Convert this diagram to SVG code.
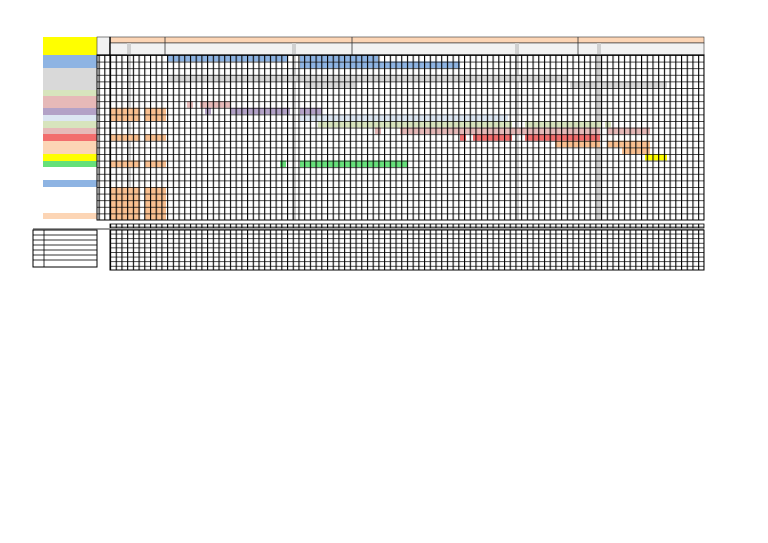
<svg xmlns="http://www.w3.org/2000/svg" width="768" height="543" viewBox="0 0 768 543">
<style>.b{fill:#8eb4e3}.g{fill:#d9d9d9}.pk{fill:#e6b9b8}.pu{fill:#b3a2c7}.lb{fill:#dce6f2}.gr{fill:#d7e4bd}.rd{fill:#f26d6d}.pe{fill:#fac090}.ye{fill:#ffff00}.gn{fill:#66e07a}.hd{fill:#fcd5b5}</style>
<defs>
<pattern id="grid" patternUnits="userSpaceOnUse" x="110" y="55" width="5.71" height="6.6"><rect width="1.1" height="6.6" fill="#000"/><rect width="5.71" height="0.7" fill="#000"/></pattern>
<pattern id="grid2" patternUnits="userSpaceOnUse" x="110" y="229" width="5.71" height="4.6"><rect width="1.1" height="4.6" fill="#000"/><rect width="5.71" height="0.7" fill="#000"/></pattern>
</defs>
<rect width="768" height="543" fill="#fff"/>
<g id="labels">
<rect x="43" y="37" width="54" height="18" class="ye"/>
<rect x="43" y="55" width="54" height="13" class="b"/>
<rect x="43" y="68" width="54" height="22" class="g"/>
<rect x="43" y="90" width="54" height="6" class="gr"/>
<rect x="43" y="96" width="54" height="12" class="pk"/>
<rect x="43" y="108" width="54" height="7" class="pu"/>
<rect x="43" y="115" width="54" height="6" class="lb"/>
<rect x="43" y="121" width="54" height="7" class="gr"/>
<rect x="43" y="128" width="54" height="6" class="pk"/>
<rect x="43" y="134" width="54" height="7" class="rd"/>
<rect x="43" y="141" width="54" height="13" class="hd"/>
<rect x="43" y="154" width="54" height="7" class="ye"/>
<rect x="43" y="161" width="54" height="6" class="gn"/>
<rect x="43" y="180" width="54" height="7" class="b"/>
<rect x="43" y="213" width="54" height="6" class="hd"/>
</g>
<g id="header">
<rect x="110" y="37" width="594" height="6" class="hd" stroke="#333" stroke-width="0.6"/>
<rect x="97" y="37" width="13" height="18" fill="#f2f2f2" stroke="#333" stroke-width="0.6"/>
<rect x="110" y="43" width="594" height="12" fill="#f2f2f2" stroke="#333" stroke-width="0.6"/>
<path d="M165 37V55M352 37V55M578 37V55" stroke="#333" stroke-width="0.8"/>
</g>
<g id="stripes">
<rect x="127" y="43" width="4" height="177" fill="#d0d0d0"/>
<rect x="292" y="43" width="4" height="177" fill="#d0d0d0"/>
<rect x="515" y="43" width="4" height="177" fill="#d0d0d0"/>
<rect x="597" y="43" width="4" height="177" fill="#d0d0d0"/>
</g>
<g id="bars">
<rect x="167" y="55" width="121" height="6.6" class="b"/>
<rect x="300" y="55" width="78" height="6.6" class="b"/>
<rect x="300" y="61.6" width="160" height="6.6" class="b"/>
<rect x="167" y="74.8" width="400" height="6.6" class="g"/>
<rect x="305" y="81.4" width="50" height="6.6" class="g"/>
<rect x="570" y="81.4" width="97" height="6.6" class="g"/>
<rect x="187" y="101.2" width="6" height="6.6" class="pk"/>
<rect x="200" y="101.2" width="30" height="6.6" class="pk"/>
<rect x="205" y="107.8" width="6" height="6.6" class="pu"/>
<rect x="230" y="107.8" width="60" height="6.6" class="pu"/>
<rect x="300" y="107.8" width="22" height="6.6" class="pu"/>
<rect x="110" y="107.8" width="30" height="13.2" class="pe"/>
<rect x="145" y="107.8" width="21" height="13.2" class="pe"/>
<rect x="300" y="114.4" width="208" height="6.6" class="lb"/>
<rect x="318" y="121" width="194" height="6.6" class="gr"/>
<rect x="525" y="121" width="76" height="6.6" class="gr"/>
<rect x="605" y="121" width="6" height="6.6" class="gr"/>
<rect x="375" y="127.6" width="6" height="6.6" class="pk"/>
<rect x="400" y="127.6" width="200" height="6.6" class="pk"/>
<rect x="607" y="127.6" width="43" height="6.6" class="pk"/>
<rect x="460" y="134.2" width="6" height="6.6" class="rd"/>
<rect x="473" y="134.2" width="39" height="6.6" class="rd"/>
<rect x="525" y="134.2" width="75" height="6.6" class="rd"/>
<rect x="110" y="134.2" width="30" height="6.6" class="pe"/>
<rect x="145" y="134.2" width="21" height="6.6" class="pe"/>
<rect x="555" y="140.8" width="45" height="6.6" class="pe"/>
<rect x="607" y="140.8" width="43" height="6.6" class="pe"/>
<rect x="622" y="147.4" width="28" height="6.6" class="pe"/>
<rect x="645" y="154" width="22" height="6.6" class="ye"/>
<rect x="280" y="160.6" width="6" height="6.6" class="gn"/>
<rect x="300" y="160.6" width="108" height="6.6" class="gn"/>
<rect x="110" y="160.6" width="30" height="6.6" class="pe"/>
<rect x="145" y="160.6" width="21" height="6.6" class="pe"/>
<rect x="110" y="187" width="30" height="33" class="pe"/>
<rect x="145" y="187" width="21" height="33" class="pe"/>
</g>
<g id="connectors">
<rect x="97" y="55" width="607" height="165" fill="url(#grid)"/>
<rect x="97" y="55" width="607" height="165" fill="none" stroke="#000" stroke-width="1"/>
<path d="M110 37V220" stroke="#000" stroke-width="1.2"/>
<rect x="110" y="224" width="594" height="4" fill="url(#grid)" stroke="#000" stroke-width="0.8"/>
<rect x="33" y="228" width="671" height="2" fill="#999"/>
<rect x="110" y="230" width="594" height="40" fill="url(#grid2)"/>
<rect x="110" y="230" width="594" height="40" fill="none" stroke="#000"/>
<rect x="33" y="230" width="64" height="37" fill="none" stroke="#000"/>
<path d="M33 235H97M33 240H97M33 245H97M33 250H97M33 255H97M33 260H97M44 230V267" stroke="#000" stroke-width="0.8"/>
</g>
</svg>
